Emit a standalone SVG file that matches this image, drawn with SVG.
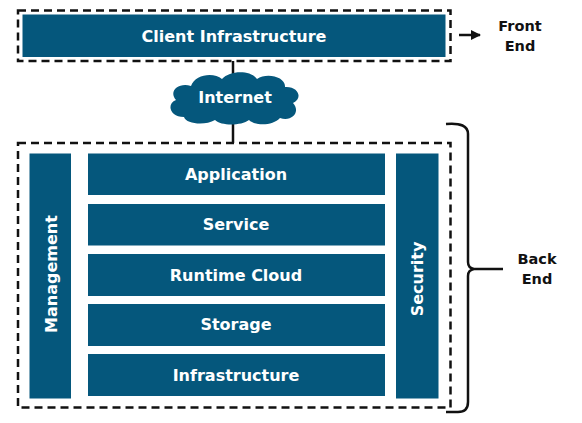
<svg xmlns="http://www.w3.org/2000/svg" width="582" height="423" viewBox="0 0 582 423">
<style>
.box{fill:#05577C}
.dash{fill:none;stroke:#111;stroke-width:2.5;stroke-dasharray:8 5}
.wt{fill:#fff;font-family:"DejaVu Sans",Verdana,sans-serif;font-weight:bold;font-size:16px;text-anchor:middle;dominant-baseline:central}
.bt{fill:#111;font-family:"DejaVu Sans",Verdana,sans-serif;font-weight:bold;font-size:14.5px;text-anchor:middle}
.ln{fill:none;stroke:#111;stroke-width:2.5}
</style>
<defs>
<marker id="ah" viewBox="0 0 10 10" refX="9" refY="5" markerWidth="4" markerHeight="4" orient="auto"><path d="M0,0 L10,5 L0,10 Z" fill="#111"/></marker>
</defs>
<rect width="582" height="423" fill="#fff"/>
<g id="connectors">
<line class="ln" x1="233" y1="61" x2="233" y2="80"/>
<line class="ln" x1="233" y1="116" x2="233" y2="143"/>
<line class="ln" x1="459" y1="35" x2="480" y2="35" marker-end="url(#ah)"/>
<path class="ln" d="M446,124 Q468,122 468,134 L468,262 Q468,268 474,269 L503,269 M474,269 Q468,270 468,276 L468,402 Q468,412 458,412 L446,412"/>
</g>
<g id="frontend">
<rect class="dash" x="18" y="10.5" width="432.5" height="50.5"/>
<rect class="box" x="22.5" y="14.5" width="423" height="42.5"/>
<text class="wt" x="234" y="36">Client Infrastructure</text>
</g>
<g id="frontend-label">
<text class="bt" x="520" y="31">Front</text>
<text class="bt" x="520" y="51">End</text>
</g>
<g id="internet">
<path class="box" d="M184,117 C170,117 166,104 176,100 C168,91 179,82 191,86 C195,74 214,72 222,79 C230,70 251,70 257,79 C267,72 286,77 285,87 C299,86 303,99 293,103 C301,112 292,122 280,118 C273,126 255,126 249,120 C241,126 221,126 215,120 C205,126 186,124 184,117 Z"/>
<text class="wt" x="235" y="97">Internet</text>
</g>
<g id="backend">
<rect class="dash" x="18" y="143" width="432.5" height="264.5"/>
</g>
<g id="management">
<rect class="box" x="29.5" y="153.5" width="41.5" height="245"/>
<text class="wt" transform="translate(51,274) rotate(-90)">Management</text>
</g>
<g id="security">
<rect class="box" x="396" y="153.5" width="42.5" height="245"/>
<text class="wt" transform="translate(417,279) rotate(-90)">Security</text>
</g>
<g id="application">
<rect class="box" x="88" y="153.5" width="297" height="41.5"/>
<text class="wt" x="236" y="174.5">Application</text>
</g>
<g id="service">
<rect class="box" x="88" y="204" width="297" height="41.5"/>
<text class="wt" x="236" y="224.5">Service</text>
</g>
<g id="runtime">
<rect class="box" x="88" y="254" width="297" height="42"/>
<text class="wt" x="236" y="275">Runtime Cloud</text>
</g>
<g id="storage">
<rect class="box" x="88" y="304" width="297" height="42"/>
<text class="wt" x="236" y="324.5">Storage</text>
</g>
<g id="infrastructure">
<rect class="box" x="88" y="354" width="297" height="42"/>
<text class="wt" x="236" y="375">Infrastructure</text>
</g>
<g id="backend-label">
<text class="bt" x="537" y="264">Back</text>
<text class="bt" x="537" y="284">End</text>
</g>
</svg>
